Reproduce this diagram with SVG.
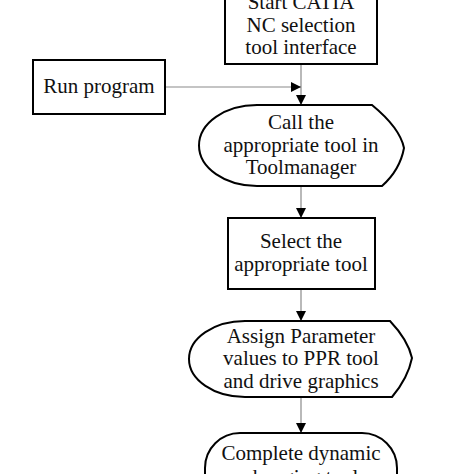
<svg xmlns="http://www.w3.org/2000/svg" width="474" height="474" viewBox="0 0 474 474">
<defs>
<style>
.shape{fill:#fff;stroke:#000;stroke-width:2}
.conn{fill:none;stroke:#8a8a8a;stroke-width:1.2}
.t{font-family:'Liberation Serif','DejaVu Serif','Times New Roman',serif;font-size:21px;fill:#111;text-anchor:middle}
</style>
<marker id="ah" markerWidth="10" markerHeight="10" refX="10" refY="5" orient="auto" markerUnits="userSpaceOnUse">
<path d="M0,0 L10,5 L0,10 Z" fill="#000"/>
</marker>
</defs>
<rect width="474" height="474" fill="#fff"/>
<g id="connectors">
<line class="conn" x1="301" y1="64" x2="301" y2="105" marker-end="url(#ah)"/>
<line class="conn" x1="165" y1="87" x2="301" y2="87" marker-end="url(#ah)"/>
<line class="conn" x1="301" y1="186" x2="301" y2="218" marker-end="url(#ah)"/>
<line class="conn" x1="301" y1="289" x2="301" y2="321" marker-end="url(#ah)"/>
<line class="conn" x1="301" y1="397" x2="301" y2="433" marker-end="url(#ah)"/>
</g>
<g id="start">
<rect class="shape" x="225" y="-10" width="152" height="74"/>
<text class="t" font-family="Liberation Serif, serif" x="301" y="9">Start CATIA</text>
<text class="t" font-family="Liberation Serif, serif" x="301" y="32">NC selection</text>
<text class="t" font-family="Liberation Serif, serif" x="301" y="54">tool interface</text>
</g>
<g id="run">
<rect class="shape" x="33" y="60" width="132" height="54"/>
<text class="t" font-family="Liberation Serif, serif" x="99" y="93">Run program</text>
</g>
<g id="call">
<path class="shape" d="M257,105 L372,105 Q400,128 404,148 Q400,170 382,186 L257,186 A58,40.5 0 0 1 257,105 Z"/>
<text class="t" font-family="Liberation Serif, serif" x="301" y="129">Call the</text>
<text class="t" font-family="Liberation Serif, serif" x="301" y="152">appropriate tool in</text>
<text class="t" font-family="Liberation Serif, serif" x="301" y="174">Toolmanager</text>
</g>
<g id="select">
<rect class="shape" x="228" y="218" width="147" height="71"/>
<text class="t" font-family="Liberation Serif, serif" x="301" y="248">Select the</text>
<text class="t" font-family="Liberation Serif, serif" x="301" y="271">appropriate tool</text>
</g>
<g id="assign">
<path class="shape" d="M245,321 L390,321 Q408,340 412,358 Q408,378 392,397 L245,397 A56,38 0 0 1 245,321 Z"/>
<text class="t" font-family="Liberation Serif, serif" x="301" y="343">Assign Parameter</text>
<text class="t" font-family="Liberation Serif, serif" x="301" y="365">values to PPR tool</text>
<text class="t" font-family="Liberation Serif, serif" x="301" y="388">and drive graphics</text>
</g>
<g id="complete">
<rect class="shape" x="205" y="433" width="192" height="80" rx="35" ry="35"/>
<text class="t" font-family="Liberation Serif, serif" x="301" y="460">Complete dynamic</text>
<text class="t" font-family="Liberation Serif, serif" x="301" y="484">changing tool</text>
</g>
</svg>
